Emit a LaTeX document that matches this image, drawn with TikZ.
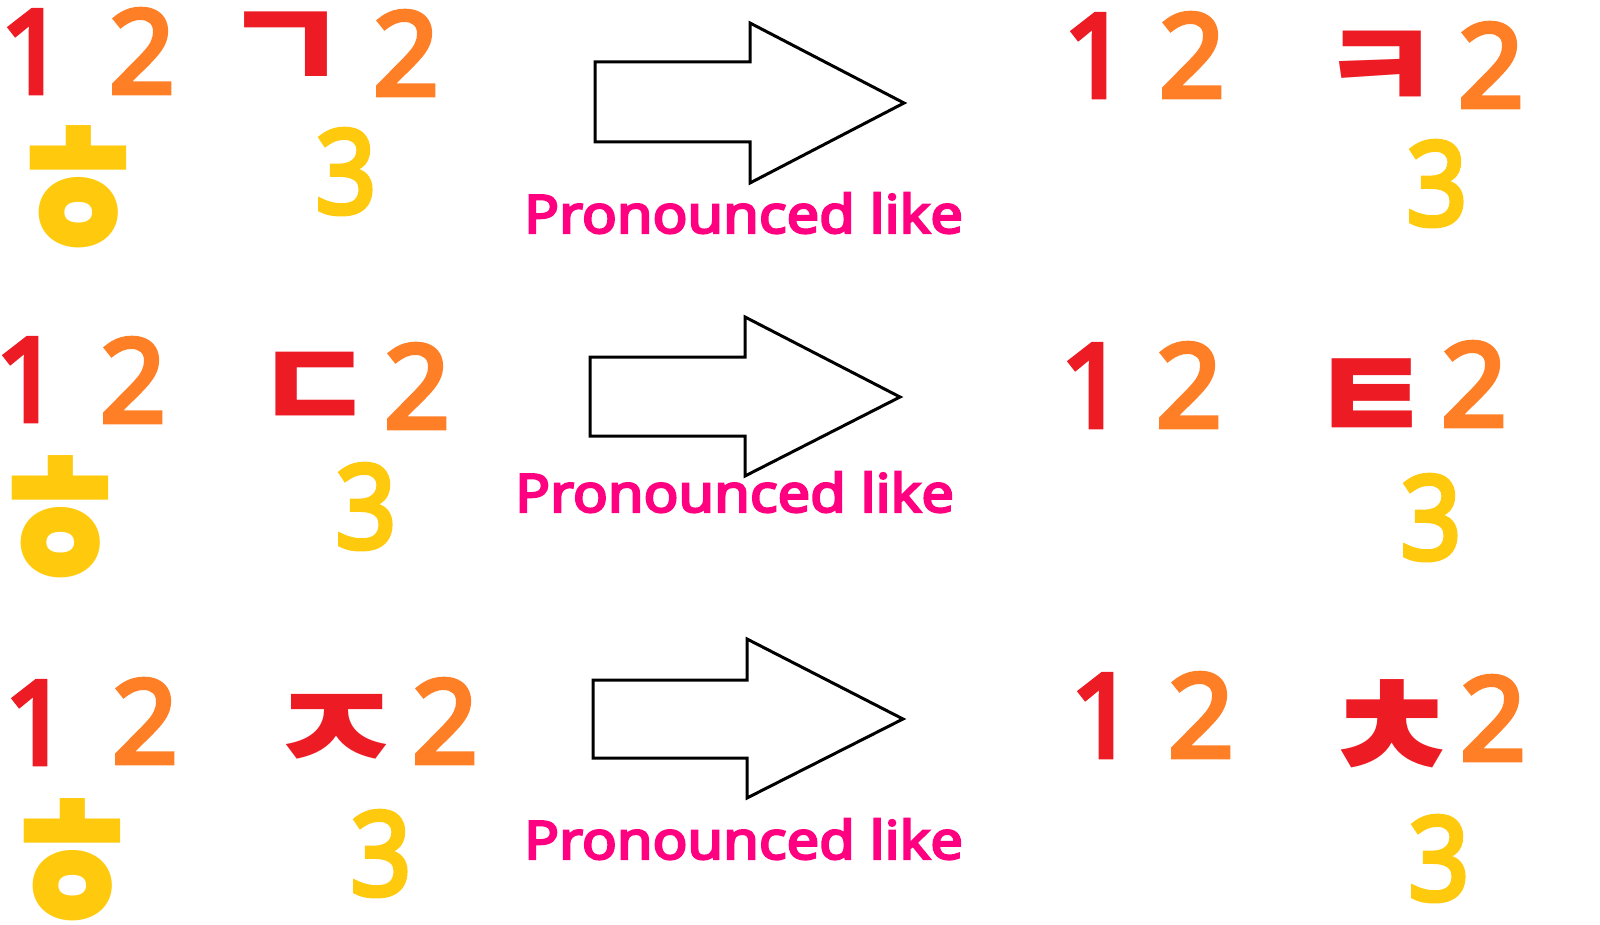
\documentclass[tikz,border=0pt]{standalone}
\usepackage{fontspec}
\setmainfont{Noto Sans}
\newfontfamily\numfont{Noto Sans}[FakeBold=4]
\newfontfamily\krfont{Noto Sans CJK KR}
\definecolor{cred}{HTML}{ED1C24}
\definecolor{corange}{HTML}{FF7F27}
\definecolor{cyellow}{HTML}{FFC90E}
\definecolor{cpink}{HTML}{FF0080}
\newcommand{\js}[3]{\scalebox{#1}[#2]{\makebox[0.72em][c]{#3}}}
\newcommand{\thr}{\scalebox{0.92}[1]{3}}
\tikzset{
  num/.style={inner sep=0pt, anchor=base, font=\numfont\fontsize{116}{130}\selectfont},
  one/.style={num, text=cred},
  two/.style={num, text=corange},
  three/.style={num, text=cyellow},
  jamo/.style={inner sep=0pt, anchor=center, text=cred, font=\krfont\fontsize{120}{130}\selectfont\bfseries},
  hieut/.style={jamo, text=cyellow},
  label/.style={inner sep=0pt, anchor=base west, text=cpink, font=\numfont\fontsize{53}{60}\selectfont},
  bigarrow/.style={draw=black, line width=3pt, line join=miter, fill=white}
}
\newcommand{\plike}{\scalebox{1.09}[1]{Pronounced like}}
\begin{document}
\begin{tikzpicture}[x=1pt,y=-1pt]
\useasboundingbox (0,0) rectangle (1600,925);
% row 1
\node[one]   (r1a1) at (33,93) {1};
\node[two]   (r1a2) at (142,93) {2};
\node[jamo]  (r1aj) at (286,52) {\js{1.15}{1.05}{ㄱ}};
\node[two]   (r1a2b) at (406,95) {2};
\node[hieut] (r1ah) at (78,194) {\js{1.3}{1.55}{ㅎ}};
\node[three] (r1a3) at (346,213) {\thr};
\draw[bigarrow] (595,62) -- (750,62) -- (750,23) -- (904,103) -- (750,183) -- (750,142) -- (595,142) -- cycle;
\node[label] (r1t) at (524,233) {\plike};
\node[one]   (r1b1) at (1096,97) {1};
\node[two]   (r1b2) at (1192,97) {2};
\node[jamo]  (r1bj) at (1380,71) {\js{1.1}{1.03}{ㅋ}};
\node[two]   (r1b2b) at (1491,107) {2};
\node[three] (r1b3) at (1437,225) {\thr};
% row 2
\node[one]   (r2a1) at (28,421) {1};
\node[two]   (r2a2) at (133,422) {2};
\node[jamo]  (r2aj) at (315,392) {\js{1.1}{1.03}{ㄷ}};
\node[two]   (r2a2b) at (417,428) {2};
\node[hieut] (r2ah) at (60,524) {\js{1.3}{1.55}{ㅎ}};
\node[three] (r2a3) at (366,548) {\thr};
\draw[bigarrow] (590,357) -- (745,357) -- (745,317) -- (900,397) -- (745,476) -- (745,436) -- (590,436) -- cycle;
\node[label] (r2t) at (515,512) {\plike};
\node[one]   (r2b1) at (1093,427) {1};
\node[two]   (r2b2) at (1189,427) {2};
\node[jamo]  (r2bj) at (1372,402) {\js{1.1}{1.11}{ㅌ}};
\node[two]   (r2b2b) at (1474,426) {2};
\node[three] (r2b3) at (1431,559) {\thr};
% row 3
\node[one]   (r3a1) at (37,764) {1};
\node[two]   (r3a2) at (145,763) {2};
\node[jamo]  (r3aj) at (336,733) {\js{1.25}{1.0}{ㅈ}};
\node[two]   (r3a2b) at (445,763) {2};
\node[hieut] (r3ah) at (72,867) {\js{1.3}{1.55}{ㅎ}};
\node[three] (r3a3) at (381,895) {\thr};
\draw[bigarrow] (593,680) -- (747,680) -- (747,639) -- (903,719) -- (747,798) -- (747,758) -- (593,758) -- cycle;
\node[label] (r3t) at (524,859) {\plike};
\node[one]   (r3b1) at (1103,757) {1};
\node[two]   (r3b2) at (1201,757) {2};
\node[jamo]  (r3bj) at (1392,731) {\js{1.23}{1.2}{ㅊ}};
\node[two]   (r3b2b) at (1493,760) {2};
\node[three] (r3b3) at (1439,900) {\thr};
\end{tikzpicture}
\end{document}
